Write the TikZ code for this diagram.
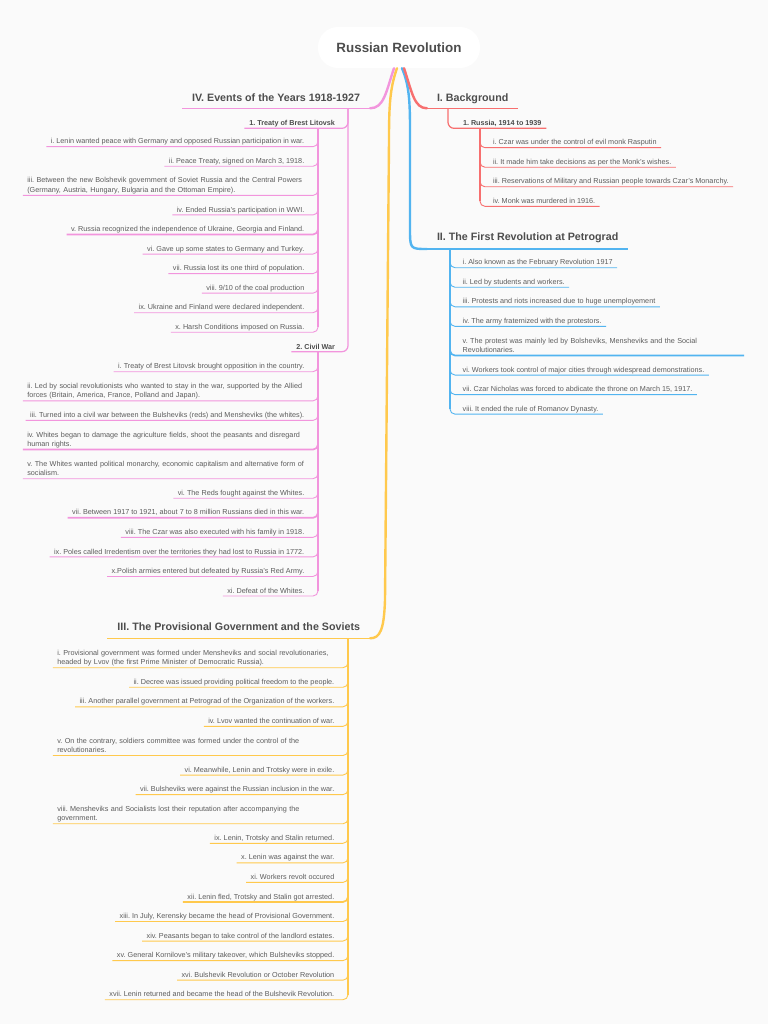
\documentclass[tikz,border=0pt]{standalone}
\usepackage{fontspec}
\setmainfont{Liberation Sans}
\usepackage{tikz}
\usetikzlibrary{positioning, calc}
\frenchspacing
\definecolor{pinkbr}{HTML}{F295DD}
\definecolor{redbr}{HTML}{F76F6F}
\definecolor{bluebr}{HTML}{52B4F0}
\definecolor{yelbr}{HTML}{FFC94D}
\definecolor{headtxt}{HTML}{4D4D4D}
\definecolor{itemtxt}{HTML}{5C5C5C}
\definecolor{paper}{HTML}{FAFAFA}
\tikzset{
  rootnode/.style={
    fill=white, rounded corners=20pt,
    minimum width=162pt, minimum height=41pt,
    font=\fontsize{13.4}{16}\selectfont\bfseries, text=headtxt
  },
  head/.style={
    inner xsep=10pt, inner ysep=7pt, text depth=0pt, outer sep=0pt,
    font=\fontsize{10.7}{13}\selectfont\bfseries, text=headtxt
  },
  subhead/.style={
    inner xsep=5pt, inner ysep=2.6pt, text depth=0pt, outer sep=0pt,
    font=\fontsize{7.2}{9}\selectfont\bfseries, text=headtxt
  },
  leaf/.style={
    inner xsep=4.5pt, inner ysep=0pt, outer sep=0pt,
    font=\fontsize{7.25}{9.6}\selectfont\frenchspacing, text=itemtxt,
    execute at begin node=\strut, execute at end node=\strut
  },
  wrap/.style={text width=277pt, align=left},
  lnext/.style={below=9.95pt of #1.south east, anchor=north east},
  rnext/.style={below=9.95pt of #1.south west, anchor=north west},
  trunk/.style={line width=2.4pt, line cap=round},
  bar/.style={line width=1.4pt},
  fork/.style={line width=1.2pt, rounded corners=6pt},
  twig/.style={line width=0.9pt, rounded corners=5pt},
  heavy/.style={line width=1.7pt, rounded corners=5pt},
  stem/.style={line width=1.8pt},
}

\begin{document}
\begin{tikzpicture}[x=1pt, y=-1pt]
  \fill[paper] (0,0) rectangle (768,1024);
  \useasboundingbox (0,0) rectangle (768,1024);
  % centre topic
  \node[rootnode] (root) at (399,47.5) {Russian Revolution};
  % main topics
  \node[head, inner ysep=6.6pt, anchor=south east] (ev)    at (370,108.3) {IV. Events of the Years 1918-1927};
  \node[head, inner ysep=6.6pt, anchor=south west] (bg)    at (427,108.3) {I. Background};
  \node[head, inner ysep=8.3pt, anchor=south west] (petro) at (427,249)   {II. The First Revolution at Petrograd};
  \node[head, inner ysep=7.6pt, anchor=south east] (prov)  at (370,638.3) {III. The Provisional Government and the Soviets};
  \draw[trunk, yelbr] ([xshift=-2pt]root.south) .. controls (390,88) and (389,105) .. (389,140)
    -- (385,600) .. controls (384,630) and (380,638.3) .. (prov.south east);
  \draw[trunk, bluebr] ([xshift=3pt]root.south) .. controls (409,85) and (410,100) .. (410,130)
    -- (410,228) .. controls (410,249) .. (petro.south west);
  \draw[trunk, pinkbr] ([xshift=-5pt]root.south) .. controls (386,92) and (384,108.3) .. (ev.south east);
  \draw[trunk, redbr] ([xshift=5pt]root.south) .. controls (412,92) and (414,108.3) .. (bg.south west);
  \draw[bar, pinkbr] (ev.south east) -- (ev.south west);
  \draw[bar, redbr] (bg.south west) -- (bg.south east);
  \draw[bar, bluebr] (petro.south west) -- (petro.south east);
  \draw[bar, yelbr] (prov.south east) -- (prov.south west);

  % IV. Events of the Years 1918-1927
  \coordinate (evj) at (348,108.3);
  \node[subhead, anchor=south east] (brest) at (340,128.3) {1. Treaty of Brest Litovsk};
  \node[subhead, anchor=south east] (civil) at (340,351.7) {2. Civil War};
  \draw[fork, pinkbr] (evj) |- (brest.south west);
  \draw[fork, pinkbr] (evj) |- (civil.south west);

  \node[leaf, anchor=south east] (t1) at (308.8,146.7) {i. Lenin wanted peace with Germany and opposed Russian participation in war.};
  \node[leaf, lnext=t1] (t2) {ii. Peace Treaty, signed on March 3, 1918.};
  \node[leaf, wrap, lnext=t2] (t3) {iii. Between the new Bolshevik government of Soviet Russia and the Central Powers\\(Germany, Austria, Hungary, Bulgaria and the Ottoman Empire).};
  \node[leaf, lnext=t3] (t4) {iv. Ended Russia's participation in WWI.};
  \node[leaf, lnext=t4] (t5) {v. Russia recognized the independence of Ukraine, Georgia and Finland.};
  \node[leaf, lnext=t5] (t6) {vi. Gave up some states to Germany and Turkey.};
  \node[leaf, lnext=t6] (t7) {vii. Russia lost its one third of population.};
  \node[leaf, lnext=t7] (t8) {viii. 9/10 of the coal production};
  \node[leaf, lnext=t8] (t9) {ix. Ukraine and Finland were declared independent.};
  \node[leaf, lnext=t9] (t10) {x. Harsh Conditions imposed on Russia.};
  \coordinate (tj) at (318,128.3);
  \draw[stem, pinkbr] (tj) -- ($(tj |- t10.south)+(0pt,5pt)$);
  \draw[twig, pinkbr] (tj) |- (t1.south west);
  \draw[twig, pinkbr] (tj) |- (t2.south west);
  \draw[twig, pinkbr] (tj) |- (t3.south west);
  \draw[twig, pinkbr] (tj) |- (t4.south west);
  \draw[heavy, pinkbr] (tj) |- (t5.south west);
  \draw[twig, pinkbr] (tj) |- (t6.south west);
  \draw[twig, pinkbr] (tj) |- (t7.south west);
  \draw[twig, pinkbr] (tj) |- (t8.south west);
  \draw[twig, pinkbr] (tj) |- (t9.south west);
  \draw[twig, pinkbr] (tj) |- (t10.south west);

  \node[leaf, anchor=south east] (c1) at (308.8,371.7) {i. Treaty of Brest Litovsk brought opposition in the country.};
  \node[leaf, wrap, lnext=c1] (c2) {ii. Led by social revolutionists who wanted to stay in the war, supported by the Allied\\forces (Britain, America, France, Polland and Japan).};
  \node[leaf, lnext=c2] (c3) {iii. Turned into a civil war between the Bulsheviks (reds) and Mensheviks (the whites).};
  \node[leaf, wrap, lnext=c3] (c4) {iv. Whites began to damage the agriculture fields, shoot the peasants and disregard\\human rights.};
  \node[leaf, wrap, lnext=c4] (c5) {v. The Whites wanted political monarchy, economic capitalism and alternative form of\\socialism.};
  \node[leaf, lnext=c5] (c6) {vi. The Reds fought against the Whites.};
  \node[leaf, lnext=c6] (c7) {vii. Between 1917 to 1921, about 7 to 8 million Russians died in this war.};
  \node[leaf, lnext=c7] (c8) {viii. The Czar was also executed with his family in 1918.};
  \node[leaf, lnext=c8] (c9) {ix. Poles called Irredentism over the territories they had lost to Russia in 1772.};
  \node[leaf, lnext=c9] (c10) {x.Polish armies entered but defeated by Russia's Red Army.};
  \node[leaf, lnext=c10] (c11) {xi. Defeat of the Whites.};
  \coordinate (cj) at (318,351.7);
  \draw[stem, pinkbr] (cj) -- ($(cj |- c11.south)+(0pt,5pt)$);
  \draw[twig, pinkbr] (cj) |- (c1.south west);
  \draw[twig, pinkbr] (cj) |- (c2.south west);
  \draw[twig, pinkbr] (cj) |- (c3.south west);
  \draw[heavy, pinkbr] (cj) |- (c4.south west);
  \draw[twig, pinkbr] (cj) |- (c5.south west);
  \draw[twig, pinkbr] (cj) |- (c6.south west);
  \draw[heavy, pinkbr] (cj) |- (c7.south west);
  \draw[twig, pinkbr] (cj) |- (c8.south west);
  \draw[twig, pinkbr] (cj) |- (c9.south west);
  \draw[twig, pinkbr] (cj) |- (c10.south west);
  \draw[twig, pinkbr] (cj) |- (c11.south west);

  % I. Background
  \coordinate (bgj) at (448,108.3);
  \node[subhead, anchor=south west] (rus) at (458,128.3) {1. Russia, 1914 to 1939};
  \draw[fork, redbr] (bgj) |- (rus.south east);
  \node[leaf, anchor=south west] (r1) at (488.5,147.7) {i. Czar was under the control of evil monk Rasputin};
  \node[leaf, rnext=r1] (r2) {ii. It made him take decisions as per the Monk's wishes.};
  \node[leaf, rnext=r2] (r3) {iii. Reservations of Military and Russian people towards Czar's Monarchy.};
  \node[leaf, rnext=r3] (r4) {iv. Monk was murdered in 1916.};
  \coordinate (rj) at (480,128.3);
  \draw[stem, redbr] (rj) -- ($(rj |- r4.south)+(0pt,5pt)$);
  \draw[twig, redbr] (rj) |- (r1.south east);
  \draw[twig, redbr] (rj) |- (r2.south east);
  \draw[twig, redbr] (rj) |- (r3.south east);
  \draw[twig, redbr] (rj) |- (r4.south east);

  % II. The First Revolution at Petrograd
  \node[leaf, anchor=south west] (b1) at (458.2,267.7) {i. Also known as the February Revolution 1917};
  \node[leaf, rnext=b1] (b2) {ii. Led by students and workers.};
  \node[leaf, rnext=b2] (b3) {iii. Protests and riots increased due to huge unemployement};
  \node[leaf, rnext=b3] (b4) {iv. The army fraternized with the protestors.};
  \node[leaf, wrap, rnext=b4] (b5) {v. The protest was mainly led by Bolsheviks, Mensheviks and the Social\\Revolutionaries.};
  \node[leaf, rnext=b5] (b6) {vi. Workers took control of major cities through widespread demonstrations.};
  \node[leaf, rnext=b6] (b7) {vii. Czar Nicholas was forced to abdicate the throne on March 15, 1917.};
  \node[leaf, rnext=b7] (b8) {viii. It ended the rule of Romanov Dynasty.};
  \coordinate (bj) at (450,249);
  \draw[stem, bluebr] (bj) -- ($(bj |- b8.south)+(0pt,5pt)$);
  \draw[twig, bluebr] (bj) |- (b1.south east);
  \draw[twig, bluebr] (bj) |- (b2.south east);
  \draw[twig, bluebr] (bj) |- (b3.south east);
  \draw[twig, bluebr] (bj) |- (b4.south east);
  \draw[heavy, bluebr] (bj) |- (b5.south east);
  \draw[twig, bluebr] (bj) |- (b6.south east);
  \draw[twig, bluebr] (bj) |- (b7.south east);
  \draw[twig, bluebr] (bj) |- (b8.south east);

  % III. The Provisional Government and the Soviets
  \node[leaf, wrap, anchor=south east] (p1) at (338.8,667.7) {i. Provisional government was formed under Mensheviks and social revolutionaries,\\headed by Lvov (the first Prime Minister of Democratic Russia).};
  \node[leaf, lnext=p1] (p2) {ii. Decree was issued providing political freedom to the people.};
  \node[leaf, lnext=p2] (p3) {iii. Another parallel government at Petrograd of the Organization of the workers.};
  \node[leaf, lnext=p3] (p4) {iv. Lvov wanted the continuation of war.};
  \node[leaf, wrap, lnext=p4] (p5) {v. On the contrary, soldiers committee was formed under the control of the\\revolutionaries.};
  \node[leaf, lnext=p5] (p6) {vi. Meanwhile, Lenin and Trotsky were in exile.};
  \node[leaf, lnext=p6] (p7) {vii. Bulsheviks were against the Russian inclusion in the war.};
  \node[leaf, wrap, lnext=p7] (p8) {viii. Mensheviks and Socialists lost their reputation after accompanying the\\government.};
  \node[leaf, lnext=p8] (p9) {ix. Lenin, Trotsky and Stalin returned.};
  \node[leaf, lnext=p9] (p10) {x. Lenin was against the war.};
  \node[leaf, lnext=p10] (p11) {xi. Workers revolt occured};
  \node[leaf, lnext=p11] (p12) {xii. Lenin fled, Trotsky and Stalin got arrested.};
  \node[leaf, lnext=p12] (p13) {xiii. In July, Kerensky became the head of Provisional Government.};
  \node[leaf, lnext=p13] (p14) {xiv. Peasants began to take control of the landlord estates.};
  \node[leaf, lnext=p14] (p15) {xv. General Kornilove's military takeover, which Bulsheviks stopped.};
  \node[leaf, lnext=p15] (p16) {xvi. Bulshevik Revolution or October Revolution};
  \node[leaf, lnext=p16] (p17) {xvii. Lenin returned and became the head of the Bulshevik Revolution.};
  \coordinate (pj) at (348,638.3);
  \draw[stem, yelbr] (pj) -- ($(pj |- p17.south)+(0pt,5pt)$);
  \draw[twig, yelbr] (pj) |- (p1.south west);
  \draw[twig, yelbr] (pj) |- (p2.south west);
  \draw[twig, yelbr] (pj) |- (p3.south west);
  \draw[twig, yelbr] (pj) |- (p4.south west);
  \draw[twig, yelbr] (pj) |- (p5.south west);
  \draw[twig, yelbr] (pj) |- (p6.south west);
  \draw[twig, yelbr] (pj) |- (p7.south west);
  \draw[twig, yelbr] (pj) |- (p8.south west);
  \draw[twig, yelbr] (pj) |- (p9.south west);
  \draw[twig, yelbr] (pj) |- (p10.south west);
  \draw[twig, yelbr] (pj) |- (p11.south west);
  \draw[heavy, yelbr] (pj) |- (p12.south west);
  \draw[twig, yelbr] (pj) |- (p13.south west);
  \draw[twig, yelbr] (pj) |- (p14.south west);
  \draw[twig, yelbr] (pj) |- (p15.south west);
  \draw[twig, yelbr] (pj) |- (p16.south west);
  \draw[twig, yelbr] (pj) |- (p17.south west);
\end{tikzpicture}
\end{document}
